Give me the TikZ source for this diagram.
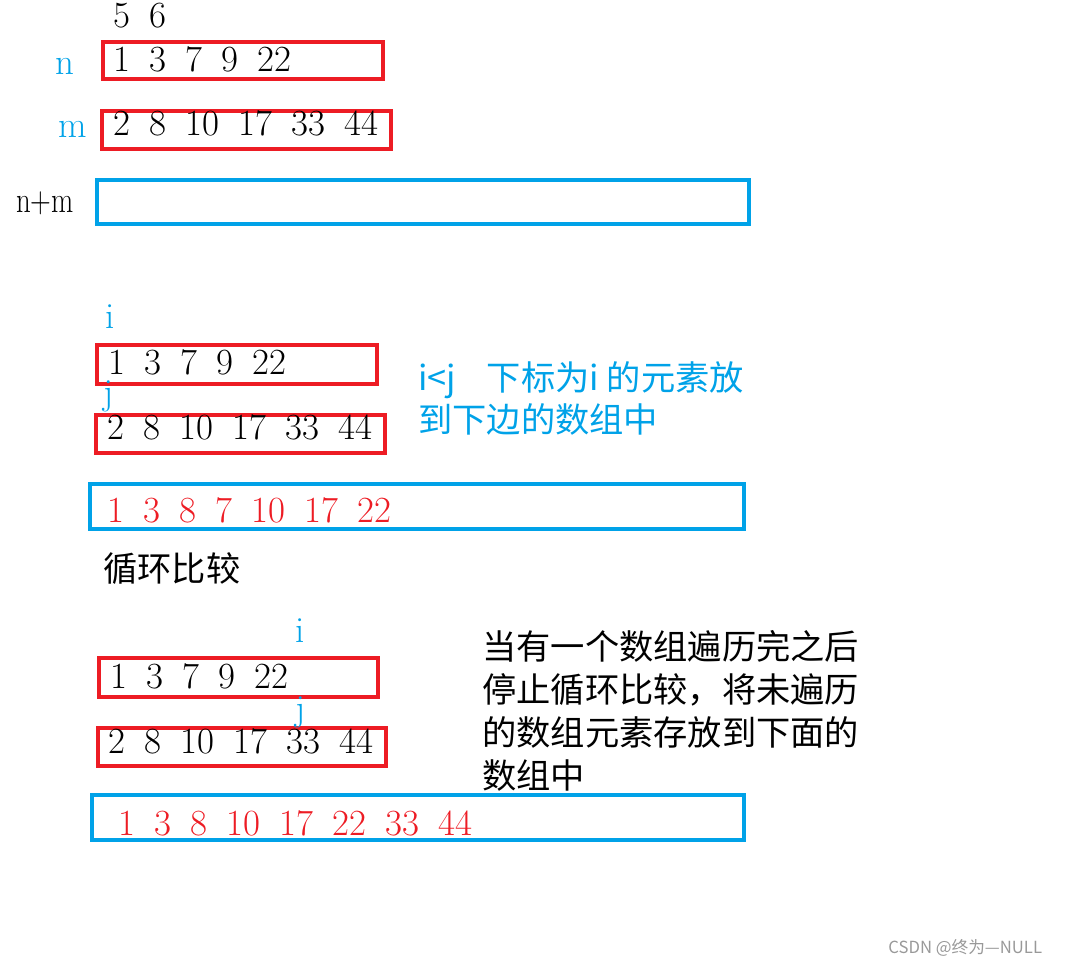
\documentclass[tikz,border=0pt]{standalone}
\usepackage{fontspec}
\newfontfamily\cjk{Noto Sans CJK SC}
\definecolor{arrred}{RGB}{237,28,36}
\definecolor{arrblue}{RGB}{0,162,232}
\newcommand\numfont{\fontsize{21}{25}\selectfont\spaceskip=0.52em\relax}
\newcommand\half[1]{\makebox[#1em][l]}
\begin{document}
\begin{tikzpicture}[x=0.02cm,y=-0.02cm,
	num/.style={anchor=base west,inner sep=0pt,font=\numfont},
	idx/.style={num,text=arrblue},
	note/.style={anchor=base west,inner sep=0pt,align=left,font=\cjk\fontsize{19.5}{24.4}\selectfont},
	redbox/.style={draw=arrred,line width=2.3pt},
	bluebox/.style={draw=arrblue,line width=2.3pt}]
		\useasboundingbox (0,0) rectangle (1076,966);
		% two arrays and the empty result
		\draw[redbox] (103,42) rectangle (383,79);
		\draw[redbox] (102,111) rectangle (391,149);
		\draw[bluebox] (97,180) rectangle (749,224);
		\node[num] (len) at (113,28) {5 6};
		\node[num] (arrn) at (113,72) {1 3 7 9 22};
		\node[num] (arrm) at (113,136) {2 8 10 17 33 44};
		\node[idx] (nlbl) at (55,75) {n};
		\node[idx] (mlbl) at (58,138) {m};
		\node[num,xscale=0.78,transform shape] (nmlbl) at (16,213) {n+m};
		
		% comparing step
		\draw[redbox] (97,345) rectangle (377,384);
		\draw[redbox] (96,415) rectangle (385,453);
		\draw[bluebox] (90,484) rectangle (744,529);
		\node[idx] (i1) at (105,329) {i};
		\node[num] (a1) at (108,375) {1 3 7 9 22};
		\node[idx] (j1) at (103,405) {j};
		\node[num] (b1) at (107,439) {2 8 10 17 33 44};
		\node[num,text=arrred] (c1) at (107,522) {1 3 8 7 10 17 22};
		\node[note,text=arrblue] (rule) at (418,433) {\half{2}{i<j}下标为\half{.5}{i}的元素放\\到下边的数组中};
		\node[note] (loop) at (103,581) {循环比较};
		
		% copying the rest
		\draw[redbox] (99,658) rectangle (378,697);
		\draw[redbox] (98,728) rectangle (386,766);
		\draw[bluebox] (92,795) rectangle (744,840);
		\node[idx] (i2) at (295,642) {i};
		\node[num] (a2) at (110,688) {1 3 7 9 22};
		\node[idx] (j2) at (295,720) {j};
		\node[num] (b2) at (108,753) {2 8 10 17 33 44};
		\node[num,text=arrred] (c2) at (118,835) {1 3 8 10 17 22 33 44};
		\node[note] (rest) at (482,788) {当有一个数组遍历完之后\\停止循环比较，将未遍历\\的数组元素存放到下面的\\数组中};
		
		\node[anchor=base west,inner sep=0pt,text=black!40,font=\cjk\fontsize{9.5}{11}\selectfont] (mark) at (888,953) {CSDN @终为—NULL};
		
		\end{tikzpicture}
\end{document}
